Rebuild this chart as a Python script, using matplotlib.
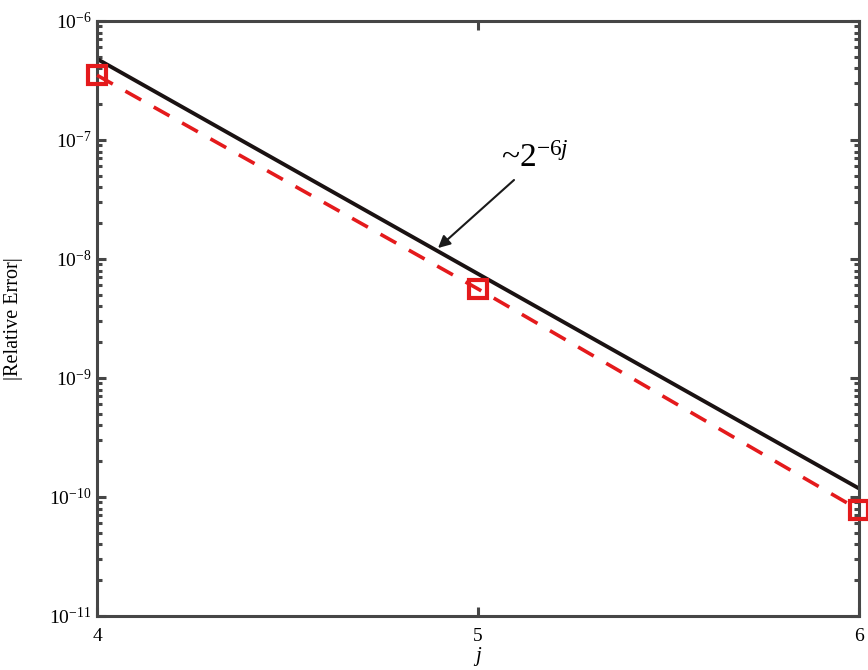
import numpy as np
import matplotlib
matplotlib.use("Agg")
from matplotlib import pyplot as plt

# data
j_vals = [4, 5, 6]
rel_error = [3.5e-7, 5.6e-9, 7.8e-11]      # red dashed, squares
ref_slope = [4.8e-7, 7.5e-9, 1.18e-10]     # black reference line ~2^-6j
x_ticks = [4, 5, 6]
y_ticks = [1e-11, 1e-10, 1e-9, 1e-8, 1e-7, 1e-6]

plt.rcParams['font.family'] = ['Liberation Serif', 'DejaVu Serif']
plt.rcParams['mathtext.fontset'] = 'custom'
plt.rcParams['mathtext.rm'] = 'Liberation Serif'
plt.rcParams['mathtext.it'] = 'Liberation Serif:italic'

axis_col = '#464646'
red = '#e41a1c'

fig = plt.figure(figsize=(8.68, 6.70), dpi=100)
ax = fig.add_axes([0.1118, 0.0806, 0.8778, 0.8881])

ax.plot(j_vals, ref_slope, color='#1a1212', lw=2.8, solid_capstyle='butt')
ax.plot(j_vals, rel_error, color=red, lw=2.6, ls=(0, (5, 4)), marker='s',
        markersize=13, markerfacecolor='none', markeredgecolor=red,
        markeredgewidth=3, clip_on=False, zorder=3)

ax.set_yscale('log')
ax.set_xlim(4, 6)
ax.set_ylim(1e-11, 1e-6)
ax.set_xticks(x_ticks)
ax.set_xticklabels([str(t) for t in x_ticks])
ax.set_yticks(y_ticks)
ax.set_yticklabels([r'$10^{%d}$' % int(np.log10(t)) for t in y_ticks])

for s in ax.spines.values():
    s.set_color(axis_col)
    s.set_linewidth(2.2)
ax.tick_params(which='both', direction='in', top=True, right=True,
               color=axis_col, width=2.2, labelsize=14)
ax.tick_params(which='major', length=6.5)
ax.tick_params(which='minor', length=3.6)
ax.tick_params(axis='y', which='major', pad=4)
ax.tick_params(axis='x', which='major', pad=9)
ax.tick_params(axis='x', which='minor', bottom=False, top=False)

ax.set_xlabel(r'$j$', fontsize=15, labelpad=0)
ax.set_ylabel('|Relative Error|', fontsize=14.5, labelpad=19)

ax.text(5.15, 5.9e-8, r'~$2^{-6j}$', fontsize=24, ha='center', va='baseline')
ax.annotate('', xy=(4.895, 1.236e-8), xytext=(5.0945, 4.61e-8),
            arrowprops=dict(arrowstyle='-|>', color='#1a1a1a', lw=1.5,
                            mutation_scale=18, shrinkA=0, shrinkB=0))

fig.savefig('out.png', dpi=100)
